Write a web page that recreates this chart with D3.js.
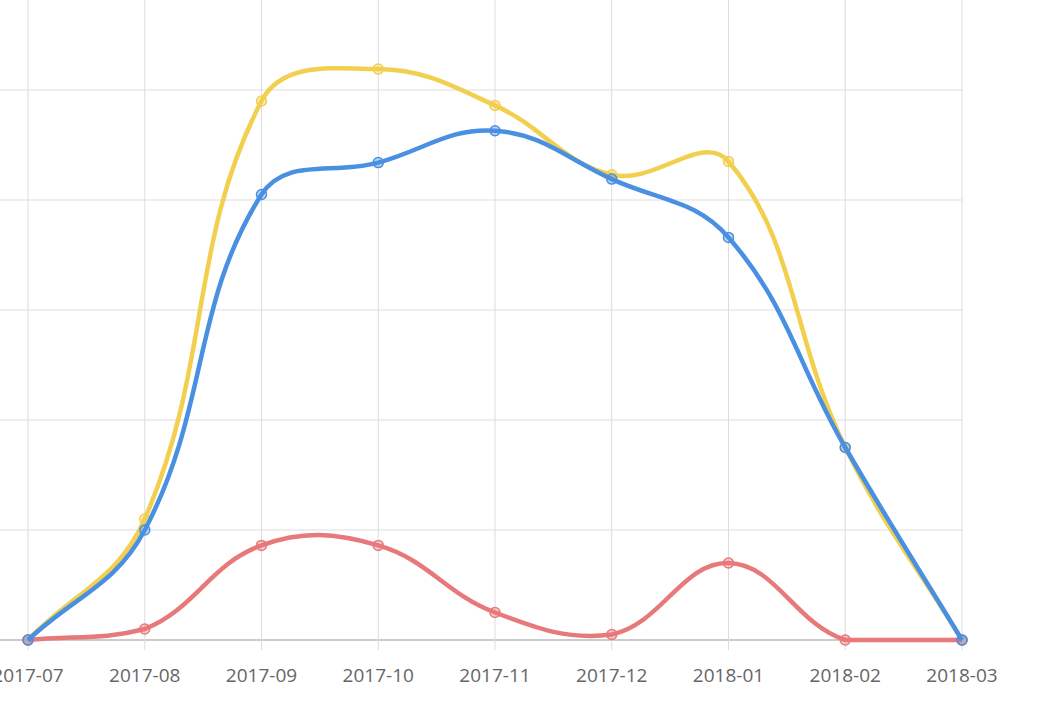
<!DOCTYPE html>
<html><head><meta charset="utf-8">
<script src="https://cdn.jsdelivr.net/npm/d3@7"></script>
<style>body{margin:0;background:#fff}svg{display:block}</style>
</head><body>
<svg id="c" width="1038" height="714"></svg>
<script>
const months = ["2017-07","2017-08","2017-09","2017-10","2017-11","2017-12","2018-01","2018-02","2018-03"];
const yellowVals = [0,110,490,519,486,423,435,175,0];
const blueVals   = [0,100,405,434,463,419,366,175,0];
const redVals    = [0,10,86,86,25,5,70,0,0];
const yTicks = [0,100,200,300,400,500];

const svg = d3.select("#c");
const x = d3.scalePoint().domain(months).range([28,962]);
const y = d3.scaleLinear().domain([0,640/1.1]).range([640,0]);

const g = svg.append("g");
g.selectAll(".hg").data(yTicks).join("line")
 .attr("x1",0).attr("x2",962).attr("y1",d=>y(d)).attr("y2",d=>y(d))
 .attr("stroke",d=>d===0?"#999":"#ddd").attr("stroke-width",1);
g.selectAll(".vg").data(months).join("line")
 .attr("x1",d=>x(d)).attr("x2",d=>x(d)).attr("y1",0).attr("y2",650)
 .attr("stroke","#ddd").attr("stroke-width",1);
g.selectAll(".xl").data(months).join("text")
 .attr("x",d=>x(d)).attr("y",682).attr("text-anchor","middle")
 .attr("font-family","'Open Sans', Helvetica, Arial, sans-serif")
 .attr("font-size",19).attr("fill","#666").text(d=>d);

// Chart.js-style bezier (tension 0.4) with control points clamped to chart area
function splinePath(vals){
  const pts = vals.map((v,i)=>[x(months[i]), y(v)]);
  const t = 0.4, yMax = y(0), yMin = 0;
  const cps = pts.map((p,i)=>{
    const prev = pts[Math.max(0,i-1)], next = pts[Math.min(pts.length-1,i+1)];
    const d01 = Math.hypot(p[0]-prev[0], p[1]-prev[1]);
    const d12 = Math.hypot(next[0]-p[0], next[1]-p[1]);
    let s01 = d01/(d01+d12) || 0, s12 = d12/(d01+d12) || 0;
    const fa = t*s01, fb = t*s12;
    const c = v=>Math.max(yMin, Math.min(yMax, v));
    return {
      p:[p[0]-fa*(next[0]-prev[0]), c(p[1]-fa*(next[1]-prev[1]))],
      n:[p[0]+fb*(next[0]-prev[0]), c(p[1]+fb*(next[1]-prev[1]))]
    };
  });
  const path = d3.path();
  path.moveTo(pts[0][0], pts[0][1]);
  for(let i=1;i<pts.length;i++){
    path.bezierCurveTo(cps[i-1].n[0], cps[i-1].n[1], cps[i].p[0], cps[i].p[1], pts[i][0], pts[i][1]);
  }
  return path.toString();
}

const series = [
 {vals:yellowVals,color:"#f2cf4e"},
 {vals:redVals,color:"#e8797a"},
 {vals:blueVals,color:"#4a90e2"}
];
series.forEach(s=>{
  svg.append("path").attr("d",splinePath(s.vals)).attr("fill","none")
   .attr("stroke",s.color).attr("stroke-width",4.5);
  svg.selectAll(null).data(s.vals).join("circle")
   .attr("cx",(d,i)=>x(months[i])).attr("cy",d=>y(d)).attr("r",5)
   .attr("fill",s.color).attr("fill-opacity",0.35)
   .attr("stroke",s.color).attr("stroke-width",1.5);
});
</script>
</body></html>
